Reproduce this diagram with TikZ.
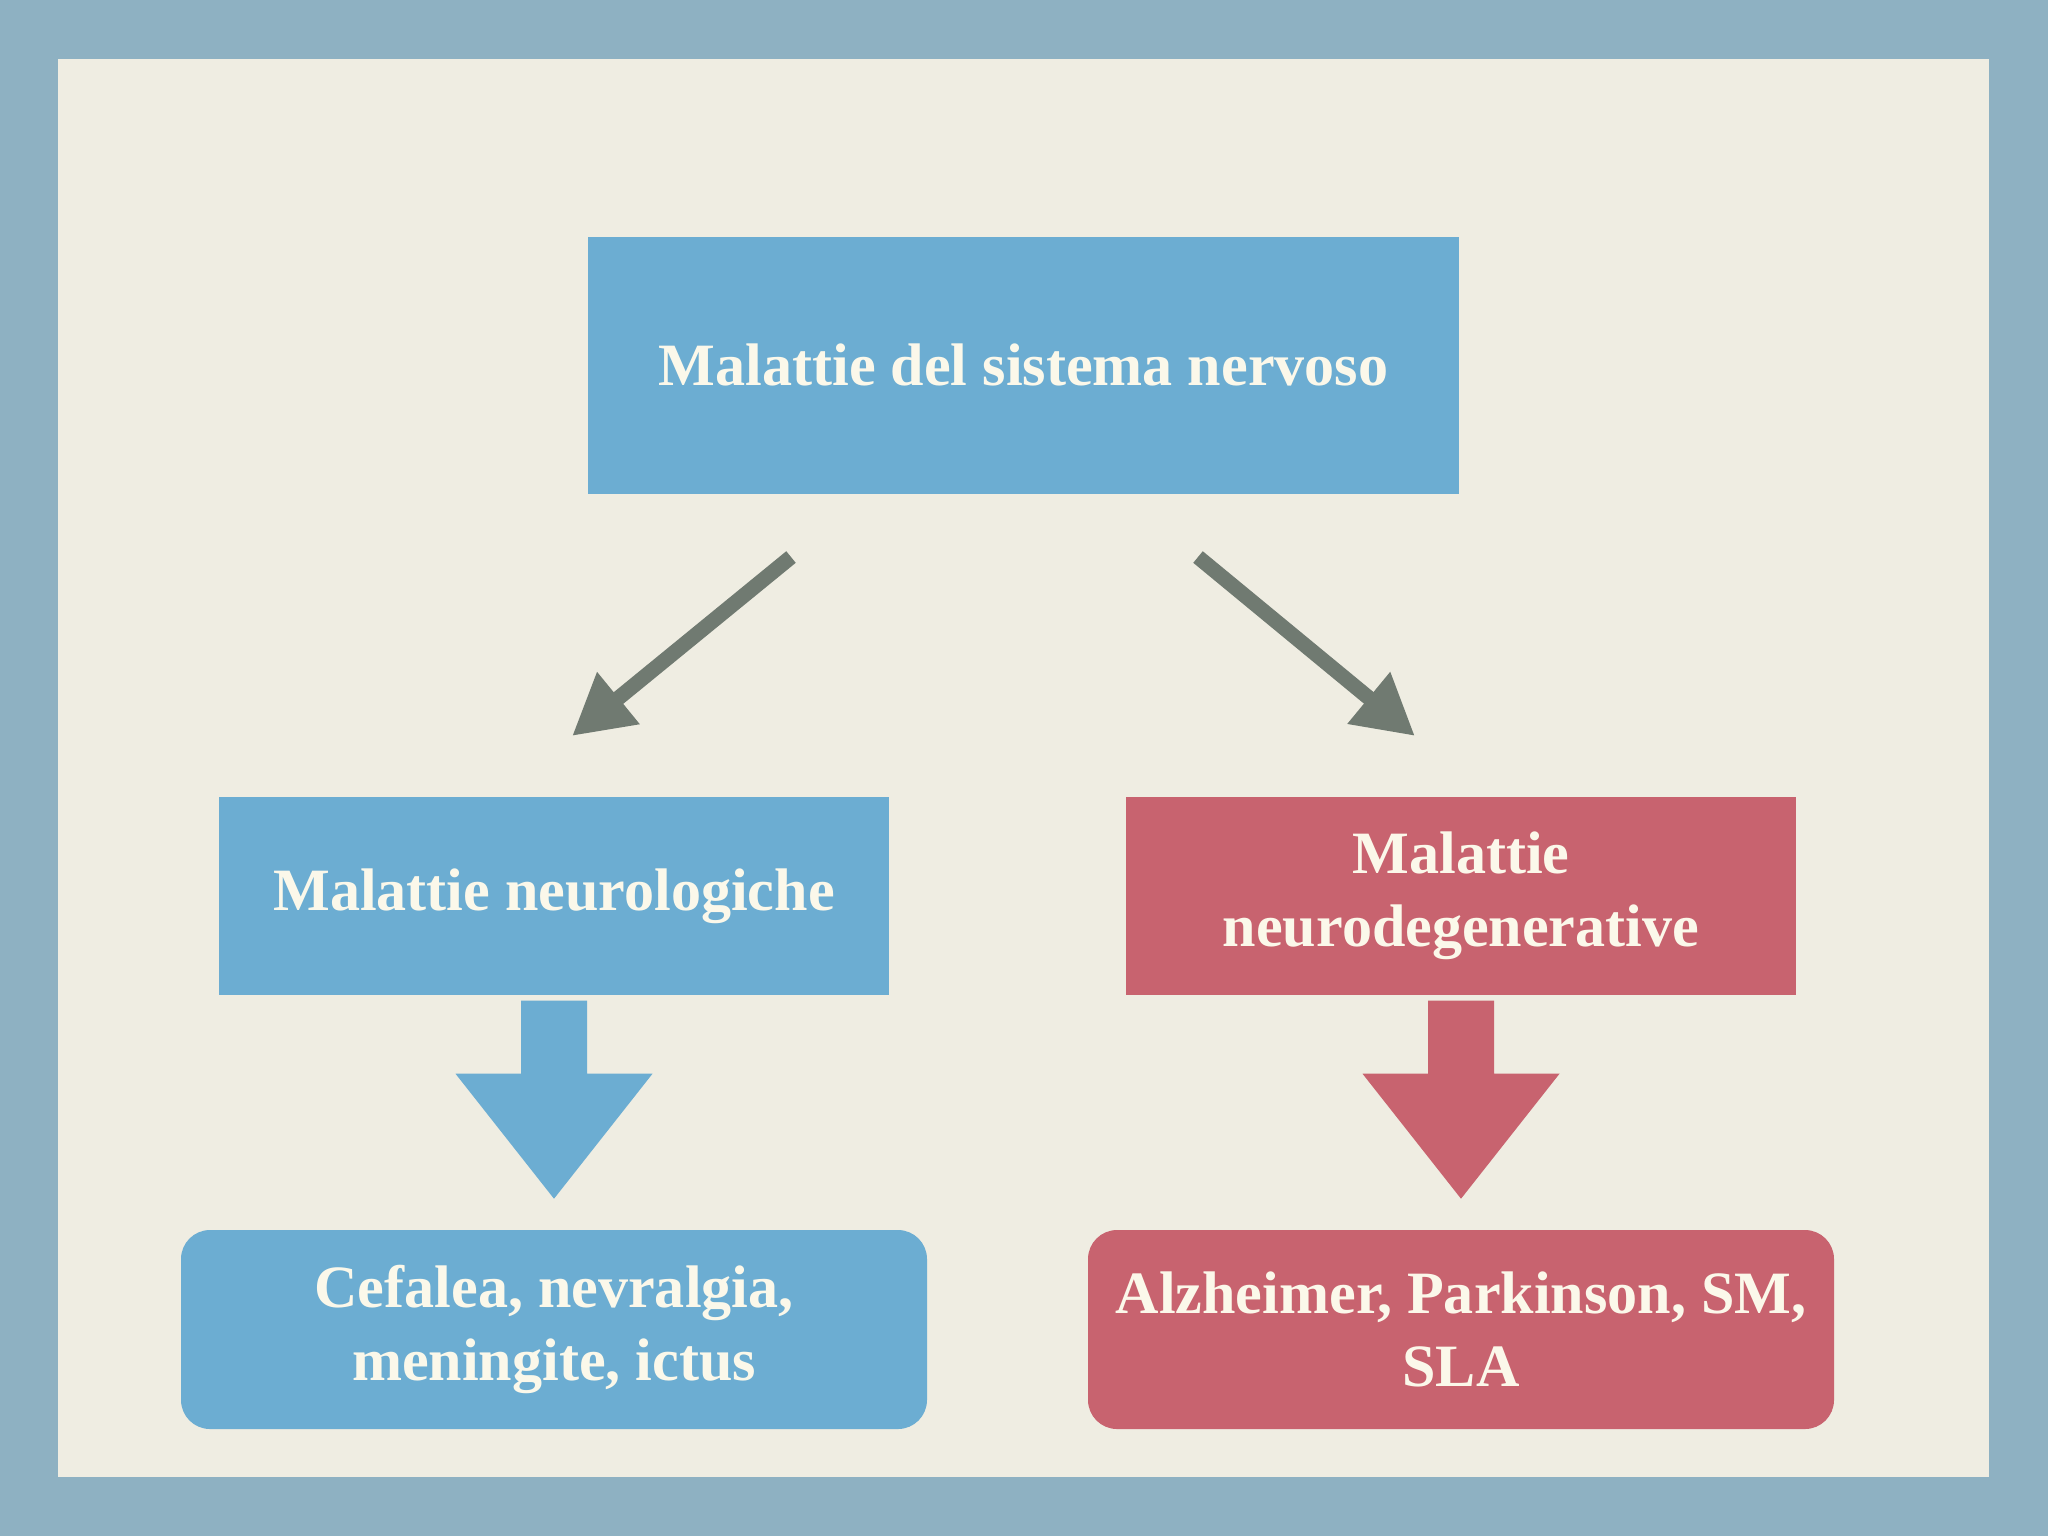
\documentclass[tikz,border=0pt]{standalone}
\usepackage{fontspec}
\setmainfont{Liberation Serif}
\usetikzlibrary{arrows.meta,calc}

\definecolor{framecol}{HTML}{8EB1C2}
\definecolor{papercol}{HTML}{EFEDE2}
\definecolor{boxblue}{HTML}{6CADD2}
\definecolor{boxred}{HTML}{C8636F}
\definecolor{arrowgray}{HTML}{707A71}
\definecolor{textcream}{HTML}{FBF8EA}

\begin{document}
\begin{tikzpicture}[x=0.1mm,y=-0.1mm,node distance=43.35mm,
  box/.style={rectangle,inner sep=0pt,align=center,text=textcream,
    font=\bfseries\fontsize{17.1}{20.8}\selectfont},
  top node/.style={box,fill=boxblue,minimum width=87.1mm,minimum height=25.7mm},
  mid node/.style={box,minimum width=67mm,minimum height=19.8mm},
  leaf node/.style={box,rounded corners=2.9mm,minimum width=74.6mm,minimum height=19.9mm},
  link/.style={draw=arrowgray,line width=1.5mm,-{Triangle[length=6mm,width=6.3mm]}}]

 % sfondo
 \useasboundingbox (0,0) rectangle (2048,1536);
 \fill[framecol] (0,0) rectangle (2048,1536);
 \fill[papercol] (58,59) rectangle (1989,1477);

 \node[top node] (top) at (1023.5,365) {Malattie del sistema nervoso};
 \node[mid node,fill=boxblue] (neuro) at (554,896) {Malattie neurologiche};
 \node[mid node,fill=boxred] (degen) at (1461,896) {Malattie\\neurodegenerative};
 \node[leaf node,fill=boxblue] (neuroex) [below of=neuro] {Cefalea, nevralgia,\\meningite, ictus};
 \node[leaf node,fill=boxred] (degenex) [below of=degen] {Alzheimer, Parkinson, SM,\\SLA};

 \coordinate (ltail) at (791,557);
 \coordinate (ltip) at (572,736);
 \coordinate (rtail) at (1198,557);
 \coordinate (rtip) at (1415,736);

 \path
    (ltail) edge [link] (ltip)
    (rtail) edge [link] (rtip);

 % frecce piene
 \fill[boxblue,shift={(neuro.south)}] (-33,5) -- (-33,78) -- (-98.5,78) -- (0,203)
    -- (98.5,78) -- (33,78) -- (33,5) -- cycle;
 \fill[boxred,shift={(degen.south)}] (-33,5) -- (-33,78) -- (-98.5,78) -- (0,203)
    -- (98.5,78) -- (33,78) -- (33,5) -- cycle;

\end{tikzpicture}
\end{document}
